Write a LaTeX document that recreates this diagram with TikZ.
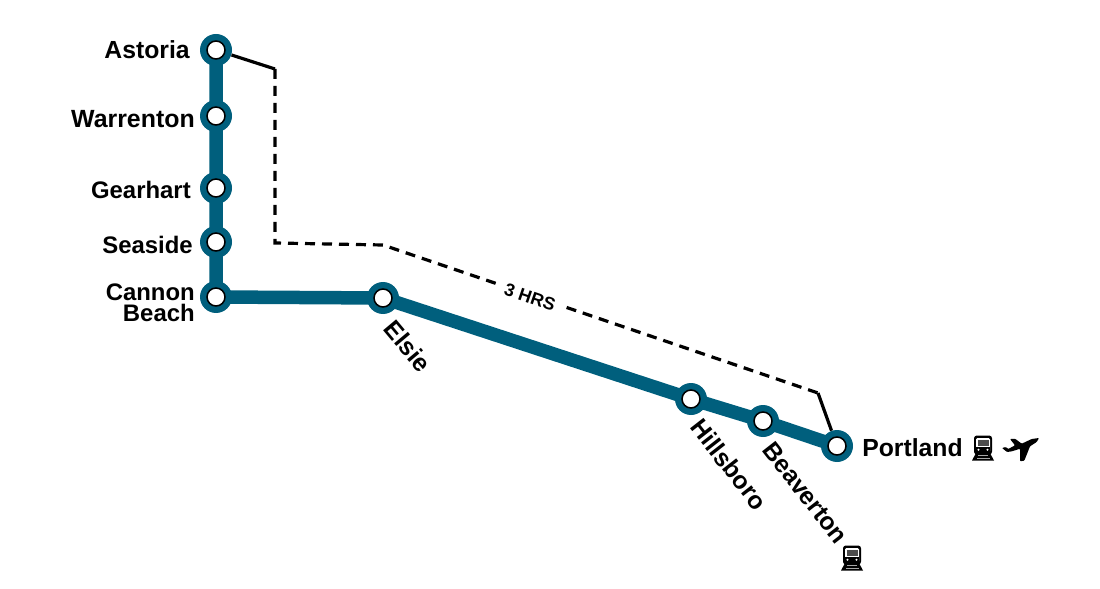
\documentclass[tikz,border=0pt]{standalone}
\usepackage{fontspec}
\setmainfont{Liberation Sans}
\usepackage{xcolor}
\definecolor{linecol}{HTML}{005F7D}
\tikzset{
    station/.style={shape=circle, draw=black, line width=1.1pt, fill=white, minimum size=18*0.25mm, inner sep=0pt},
    ring/.style={shape=circle, fill=linecol, minimum size=32*0.25mm, inner sep=0pt},
    stoplabel/.style={font=\bfseries\fontsize{17.6}{14.9}\selectfont, align=right, inner sep=0pt},
    stopsmall/.style={font=\bfseries\fontsize{17}{14.9}\selectfont, align=right, inner sep=0pt},
    route/.style={draw=linecol, line width=13.5*0.25mm},
    leader/.style={draw=black, line width=3.2*0.25mm},
    leaderdash/.style={leader, dash pattern=on 10*0.25mm off 7*0.25mm},
    pics/trainicon/.style={code={
        \fill[black, rounded corners=2pt] (-9,-12.5) rectangle (9,6.5);
        \fill[white, rounded corners=1pt] (-7,-10) rectangle (7,4.5);
        \fill[black!70] (-5.5,-8.5) rectangle (5.5,-2);
        \fill[black] (-7,-1) rectangle (7,4.5);
        \fill[white] (-4.5,1.7) circle (1.1);
        \fill[white] (4.5,1.7) circle (1.1);
        \fill[black] (-7,5) -- (7,5) -- (11,12.5) -- (-11,12.5) -- cycle;
        \fill[white!65!black] (-5,6.5) rectangle (5,8);
        \fill[white!65!black] (-6.5,9.5) rectangle (6.5,11);
    }},
    pics/planeicon/.style={code={
        \fill[black, rounded corners=0.6pt] (19,-11) -- (11.7,-10) -- (1.7,-5.3) -- (-5,-10.3) -- (-10,-10) -- (-5,-3.7)
            -- (-11.7,0) -- (-14.3,-2) -- (-18,-1) -- (-13,3) -- (-8,2.3) -- (0,-0.3) -- (0,12.3) -- (4.3,11.7) -- (10,-2.7) -- (16.7,-7) -- cycle;
    }}
}
\begin{document}
\begin{tikzpicture}[x=0.25mm, y=-0.25mm]
    \useasboundingbox (0,0) rectangle (1100,589);

    % stops, rings first
    \node[ring] (R1) at (216,50) {};
    \node[ring] (R2) at (216,116) {};
    \node[ring] (R3) at (216,188) {};
    \node[ring] (R4) at (216,242) {};
    \node[ring] (R5) at (216,297) {};
    \node[ring] (R6) at (383,298) {};
    \node[ring] (R7) at (691,399) {};
    \node[ring] (R8) at (763,421) {};
    \node[ring] (R9) at (837,446) {};

    \draw[route] (R1.center) -- (R2.center) -- (R3.center) -- (R4.center) -- (R5.center) -- (R6.center) -- (R7.center) -- (R8.center) -- (R9.center);

    \node[station] (Astoria) at (R1) {};
    \node[station] (Warrenton) at (R2) {};
    \node[station] (Gearhart) at (R3) {};
    \node[station] (Seaside) at (R4) {};
    \node[station] (Cannon) at (R5) {};
    \node[station] (Elsie) at (R6) {};
    \node[station] (Hillsboro) at (R7) {};
    \node[station] (Beaverton) at (R8) {};
    \node[station] (Portland) at (R9) {};

    % labels
    \node[stoplabel, anchor=east] (AstoriaText) at (190,50) {Astoria};
    \node[stoplabel, font=\bfseries\fontsize{17.7}{14.9}\selectfont, anchor=east] (WarrentonText) at (195,119) {Warrenton};
    \node[stopsmall, anchor=east] (GearhartText) at (191,190) {Gearhart};
    \node[stopsmall, anchor=east] (SeasideText) at (193,245) {Seaside};
    \node[stopsmall, anchor=east] (CannonText) at (195,303) {Cannon\\Beach};
    \node[stoplabel, anchor=west, rotate=-50] (ElsieText) at (389,324) {Elsie};
    \node[stoplabel, anchor=west, rotate=-52] (HillsboroText) at (696,422) {Hillsboro};
    \node[stoplabel, anchor=west, rotate=-52] (BeavertonText) at (768,445) {Beaverton};
    \node[stoplabel, anchor=west] (PortlandText) at (862,448) {Portland};

    % travel time
    \coordinate (K1) at (275,69);
    \coordinate (K2) at (275,243);
    \coordinate (K3) at (383,245);
    \coordinate (K4) at (818,393);
    \draw[leader] (R1) -- (K1);
    \draw[leaderdash] (K1) -- (K2) -- (K3) -- (K4);
    \draw[leader] (K4) -- (R9);
    \node[fill=white, inner sep=4pt, rotate=-19, font=\bfseries\fontsize{12.7}{14}\selectfont] (Hours) at (530,297) {3 HRS};

    % icons
    \pic (TrainA) at (983,448) {trainicon};
    \pic (Plane) at (1020,449) {planeicon};
    \pic (TrainB) at (852,558) {trainicon};
\end{tikzpicture}
\end{document}
